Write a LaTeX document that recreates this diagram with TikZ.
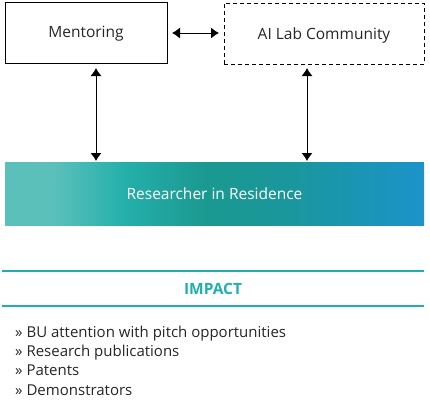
\documentclass[tikz,border=0pt]{standalone}
\usepackage{fontspec}
\setmainfont{Open Sans}
\usetikzlibrary{arrows.meta}
\definecolor{tealline}{HTML}{1FAFAE}
\definecolor{gA}{HTML}{5BBFBA}
\definecolor{gB}{HTML}{25B0AB}
\definecolor{gC}{HTML}{1A9990}
\definecolor{gE}{HTML}{1A979C}
\definecolor{gD}{HTML}{1B93CB}
\pgfdeclarehorizontalshading{rirshade}{100bp}{color(0bp)=(gA);color(25bp)=(gA);color(31bp)=(gA);color(39bp)=(gB);color(49bp)=(gC);color(59bp)=(gE);color(75bp)=(gD);color(100bp)=(gD)}
\tikzset{
  box/.style={draw=black, line width=0.9pt, minimum width=162pt, minimum height=61pt, text depth=0.5pt, font=\fontsize{15.5}{18}\selectfont, text=black!85},
  dbox/.style={box, dashed, dash pattern=on 4pt off 3pt, minimum width=200pt},
  arr/.style={{Latex[length=8pt,width=11pt]}-{Latex[length=8pt,width=11pt]}, line width=0.9pt},
  bullet/.style={anchor=base west, font=\fontsize{15}{18}\selectfont, text=black!85, inner sep=0pt}
}
\begin{document}
\begin{tikzpicture}[x=1pt,y=-1pt]
\useasboundingbox (0,0) rectangle (430,400);
\node[box] (ment) at (86,32.5) {Mentoring};
\node[dbox] (ai) at (324,33.5) {AI Lab Community};
\coordinate (h1) at (172,33);
\coordinate (h2) at (219,33);
\draw[arr] (h1) -- (h2);
\node[shading=rirshade, minimum width=419pt, minimum height=63pt, inner sep=0pt, font=\fontsize{15.5}{18}\selectfont, text=white] (rir) at (214.5,193.5) {Researcher in Residence};
\coordinate (a1) at (96,68);
\coordinate (a2) at (307,68);
\coordinate (b1) at (96,161);
\coordinate (b2) at (307,161);
\draw[arr] (a1) -- (b1);
\draw[arr] (a2) -- (b2);
\draw[tealline, line width=1.6pt] (2,271) coordinate (l1) -- (424,271) coordinate (l2);
\draw[tealline, line width=1.6pt] (2,306) coordinate (l3) -- (424,306) coordinate (l4);
\node[font=\bfseries\fontsize{15.5}{18}\selectfont, text=tealline] (imp) at (213,289) {IMPACT};
\node[bullet] (t1) at (15,337) {» BU attention with pitch opportunities};
\node[bullet] (t2) at (15,356.5) {» Research publications};
\node[bullet] (t3) at (15,375.5) {» Patents};
\node[bullet] (t4) at (15,395) {» Demonstrators};
\end{tikzpicture}
\end{document}
